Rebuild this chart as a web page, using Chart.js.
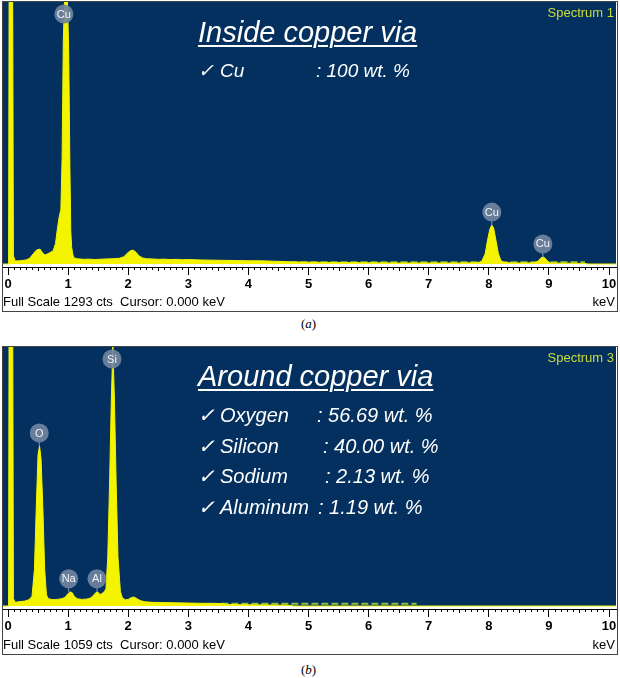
<!DOCTYPE html>
<html>
<head>
<meta charset="utf-8">
<script src="https://cdn.jsdelivr.net/npm/chart.js@4.4.1/dist/chart.umd.min.js"></script>
<style>
  body { margin: 0; width: 620px; height: 678px; background: #fff; position: relative; overflow: hidden;
         font-family: Arial, "Liberation Sans", sans-serif; }
  .box { position: absolute; left: 2px; width: 616px; border: 1px solid #444; box-sizing: border-box; }
  canvas { position: absolute; left: 0; }
  .t { position: absolute; white-space: pre; }
  .title { color: #fff; font-style: italic; font-size: 29px; line-height: 29px; text-decoration: underline;
           text-decoration-thickness: 2px; text-underline-offset: 3px; }
  .item { color: #fff; font-style: italic; line-height: 20px; }
  .spec { color: #c8dc3c; font-size: 13px; line-height: 13px; }
  .foot { color: #000; font-size: 13px; line-height: 13px; }
  .cap { font-family: "Liberation Serif", "DejaVu Serif", serif; font-size: 13px; line-height: 13px; color: #000; }
</style>
</head>
<body>

<div class="box" style="top:1px;height:311px"></div>
<div class="box" style="top:346px;height:309px"></div>

<canvas id="specA" width="620" height="296" style="top:0"></canvas>
<canvas id="specB" width="620" height="296" style="top:345px"></canvas>

<!-- panel (a) text -->
<div class="t spec" style="right:6px;top:6px">Spectrum 1</div>
<div class="t title" style="left:198px;top:18px">Inside copper via</div>
<div class="t item" style="left:198px;top:61px;font-size:19px">✓</div>
<div class="t item" style="left:220px;top:61px;font-size:19px">Cu</div>
<div class="t item" style="left:316px;top:61px;font-size:19px">: 100 wt. %</div>
<div class="t foot" style="left:3px;top:295px">Full Scale 1293 cts  Cursor: 0.000 keV</div>
<div class="t foot" style="right:5px;top:295px">keV</div>
<div class="t cap" style="left:301px;top:317px">(<i>a</i>)</div>

<!-- panel (b) text -->
<div class="t spec" style="right:6px;top:351px">Spectrum 3</div>
<div class="t title" style="left:198px;top:362px">Around copper via</div>
<div class="t item" style="left:198px;top:405px;font-size:20px">✓</div>
<div class="t item" style="left:220px;top:405px;font-size:20px">Oxygen</div>
<div class="t item" style="left:317px;top:405px;font-size:20px">: 56.69 wt. %</div>
<div class="t item" style="left:198px;top:436px;font-size:20px">✓</div>
<div class="t item" style="left:220px;top:436px;font-size:20px">Silicon</div>
<div class="t item" style="left:323px;top:436px;font-size:20px">: 40.00 wt. %</div>
<div class="t item" style="left:198px;top:466px;font-size:20px">✓</div>
<div class="t item" style="left:220px;top:466px;font-size:20px">Sodium</div>
<div class="t item" style="left:325px;top:466px;font-size:20px">: 2.13 wt. %</div>
<div class="t item" style="left:198px;top:497px;font-size:20px">✓</div>
<div class="t item" style="left:220px;top:497px;font-size:20px">Aluminum</div>
<div class="t item" style="left:318px;top:497px;font-size:20px">: 1.19 wt. %</div>
<div class="t foot" style="left:3px;top:638px">Full Scale 1059 cts  Cursor: 0.000 keV</div>
<div class="t foot" style="right:5px;top:638px">keV</div>
<div class="t cap" style="left:301px;top:663px">(<i>b</i>)</div>

<script>
// x axis ticks (keV)
const keVTicks = [0, 1, 2, 3, 4, 5, 6, 7, 8, 9, 10];

// spectrum 1 - inside copper via
const fullScaleA = 1293;
const keVA = [-0.09, 0.01, 0.02, 0.075, 0.09, 0.12, 0.2, 0.3, 0.36, 0.42,
  0.47, 0.53, 0.57, 0.61, 0.66, 0.71, 0.75, 0.79, 0.82, 0.85,
  0.88, 0.9, 0.92, 0.94, 0.99, 1.01, 1.03, 1.045, 1.06, 1.08,
  1.1, 1.15, 1.25, 1.35, 1.45, 1.55, 1.65, 1.75, 1.85, 1.93,
  1.98, 2.03, 2.08, 2.13, 2.18, 2.24, 2.3, 2.4, 2.5, 2.6,
  2.7, 2.8, 2.9, 3.0, 3.2, 3.4, 3.6, 3.8, 4.0, 4.2,
  4.4, 4.6, 4.8, 5.0, 5.3, 5.6, 6.0, 6.5, 7.0, 7.5,
  7.8, 7.88, 7.94, 7.98, 8.02, 8.05, 8.08, 8.12, 8.16, 8.2,
  8.25, 8.4, 8.6, 8.75, 8.82, 8.86, 8.9, 8.94, 8.98, 9.03,
  9.3, 9.6, 9.65, 10.2];
const ctsA = [0, 0, 1600, 1600, 40, 15, 16, 20, 28, 50,
  68, 74, 58, 44, 50, 58, 65, 100, 170, 230,
  270, 520, 1100, 1293, 1293, 1050, 480, 160, 80, 45,
  30, 26, 23, 24, 22, 24, 25, 26, 28, 36,
  52, 64, 69, 58, 40, 30, 26, 25, 23, 24,
  22, 23, 21, 22, 20, 19, 18, 17, 16, 16,
  14, 12, 10, 9, 8, 7, 6, 5, 5, 5,
  6, 12, 50, 120, 175, 192, 178, 115, 50, 18,
  8, 5, 5, 6, 14, 28, 35, 28, 13, 5,
  4, 3, 0, 0];
const greenKeVA = [4.7, 9.6];
const greenCtsA = [9, 9];
const tagNamesA = ["Cu", "Cu", "Cu"];
const tagKeVA = [0.93, 8.05, 8.9];

// spectrum 3 - around copper via
const fullScaleB = 1059;
const keVB = [-0.09, 0.01, 0.02, 0.075, 0.09, 0.12, 0.2, 0.28, 0.35, 0.4,
  0.44, 0.47, 0.5, 0.525, 0.55, 0.58, 0.61, 0.64, 0.67, 0.72,
  0.78, 0.84, 0.9, 0.95, 0.99, 1.03, 1.07, 1.1, 1.15, 1.22,
  1.3, 1.36, 1.41, 1.45, 1.49, 1.53, 1.57, 1.6, 1.63, 1.66,
  1.69, 1.72, 1.745, 1.77, 1.8, 1.83, 1.87, 1.9, 1.95, 2.0,
  2.05, 2.09, 2.14, 2.2, 2.28, 2.4, 2.6, 2.8, 3.0, 3.2,
  3.4, 3.55, 3.7, 4.0, 4.4, 4.7, 4.75, 10.2];
const ctsB = [0, 0, 1500, 1500, 30, 15, 18, 20, 26, 40,
  150, 400, 620, 654, 600, 400, 150, 45, 30, 27,
  26, 28, 30, 36, 48, 58, 54, 40, 30, 27,
  28, 31, 40, 52, 58, 47, 52, 58, 70, 200,
  500, 850, 1059, 850, 500, 200, 60, 35, 25, 27,
  34, 37, 31, 22, 17, 15, 14, 13, 12, 11,
  11, 10, 6, 5, 4, 3, 0, 0];
const greenKeVB = [3.55, 6.8];
const greenCtsB = [9, 9];
const tagNamesB = ["O", "Na", "Al", "Si"];
const tagKeVB = [0.52, 1.01, 1.48, 1.73];

const NAVY = "#04305f";
const YELLOW = "#f4f400";

// navy plot background down to the zero line
const navyBg = {
  id: "navyBg",
  beforeDatasetsDraw(chart) {
    const { ctx, chartArea: a, scales: { y } } = chart;
    ctx.save();
    ctx.fillStyle = NAVY;
    ctx.fillRect(a.left, a.top, a.right - a.left, y.getPixelForValue(0) - a.top);
    ctx.restore();
  }
};

// small 0.1 keV ticks under the axis line
const minorTicks = {
  id: "minorTicks",
  afterDraw(chart) {
    const { ctx, chartArea: a, scales: { x } } = chart;
    ctx.save();
    ctx.strokeStyle = "#000";
    ctx.lineWidth = 1;
    for (let i = 1; i < 100; i++) {
      if (i % 10 === 0) continue;
      const px = Math.round(x.getPixelForValue(i / 10)) + 0.5;
      ctx.beginPath();
      ctx.moveTo(px, a.bottom);
      ctx.lineTo(px, a.bottom + (i % 5 === 0 ? 4 : 3));
      ctx.stroke();
    }
    ctx.restore();
  }
};

// element tags sitting on the peaks
const peakTags = {
  id: "peakTags",
  afterDatasetsDraw(chart, args, opts) {
    const { ctx, chartArea: a, scales: { x, y } } = chart;
    const pts = chart.data.datasets[0].data;
    ctx.save();
    opts.names.forEach((name, i) => {
      const k = opts.keV[i];
      let top = 0;
      pts.forEach(p => { if (Math.abs(p.x - k) <= 0.04) top = Math.max(top, p.y); });
      const px = x.getPixelForValue(k);
      const py = y.getPixelForValue(top);
      const cy = Math.max(py - 13, a.top + 12);
      ctx.strokeStyle = "rgba(150,165,185,0.9)";
      ctx.beginPath();
      ctx.moveTo(px, cy + 9);
      ctx.lineTo(px, Math.max(py, cy + 9));
      ctx.stroke();
      ctx.fillStyle = "rgba(112,132,160,0.92)";
      ctx.beginPath();
      ctx.arc(px, cy, 9.5, 0, Math.PI * 2);
      ctx.fill();
      ctx.fillStyle = "#f2f4f8";
      ctx.font = "11px Arial";
      ctx.textAlign = "center";
      ctx.textBaseline = "middle";
      ctx.fillText(name, px, cy + 0.5);
    });
    ctx.restore();
  }
};

function makeSpectrum(id, keV, cts, gKeV, gCts, fullScale, names, tagKeV, axisH) {
  const canvasH = 296, padTop = 2;
  const navyH = canvasH - axisH - 3 - padTop;
  new Chart(document.getElementById(id), {
    type: "line",
    data: {
      datasets: [{
        data: keV.map((k, i) => ({ x: k, y: cts[i] })),
        borderColor: YELLOW,
        backgroundColor: YELLOW,
        borderWidth: 1,
        pointRadius: 0,
        tension: 0,
        fill: "origin"
      }, {
        data: gKeV.map((k, i) => ({ x: k, y: gCts[i] })),
        borderColor: "#8fbf3a",
        borderWidth: 2,
        borderDash: [7, 3],
        pointRadius: 0,
        fill: false
      }]
    },
    options: {
      responsive: false,
      animation: false,
      devicePixelRatio: 1,
      layout: { padding: { left: 3, right: 4, top: padTop, bottom: 0 } },
      plugins: {
        legend: { display: false },
        tooltip: { enabled: false },
        peakTags: { names: names, keV: tagKeV }
      },
      scales: {
        x: {
          type: "linear",
          min: -5 / 60.1,
          max: 608 / 60.1,
          afterBuildTicks: s => { s.ticks = keVTicks.map(v => ({ value: v })); },
          afterFit: s => { s.height = axisH; },
          ticks: { autoSkip: false, maxRotation: 0, padding: 2, color: "#000",
                   font: { family: "Arial", size: 13, weight: "bold" },
                   callback: v => String(v) },
          grid: { drawOnChartArea: false, drawTicks: true, tickLength: 8, color: "#000" },
          border: { display: true, color: "#000", width: 1 }
        },
        y: {
          display: false,
          min: -3 * fullScale / navyH,
          max: fullScale
        }
      }
    },
    plugins: [navyBg, minorTicks, peakTags]
  });
}

makeSpectrum("specA", keVA, ctsA, greenKeVA, greenCtsA, fullScaleA, tagNamesA, tagKeVA, 29);
makeSpectrum("specB", keVB, ctsB, greenKeVB, greenCtsB, fullScaleB, tagNamesB, tagKeVB, 32);
</script>
</body>
</html>
